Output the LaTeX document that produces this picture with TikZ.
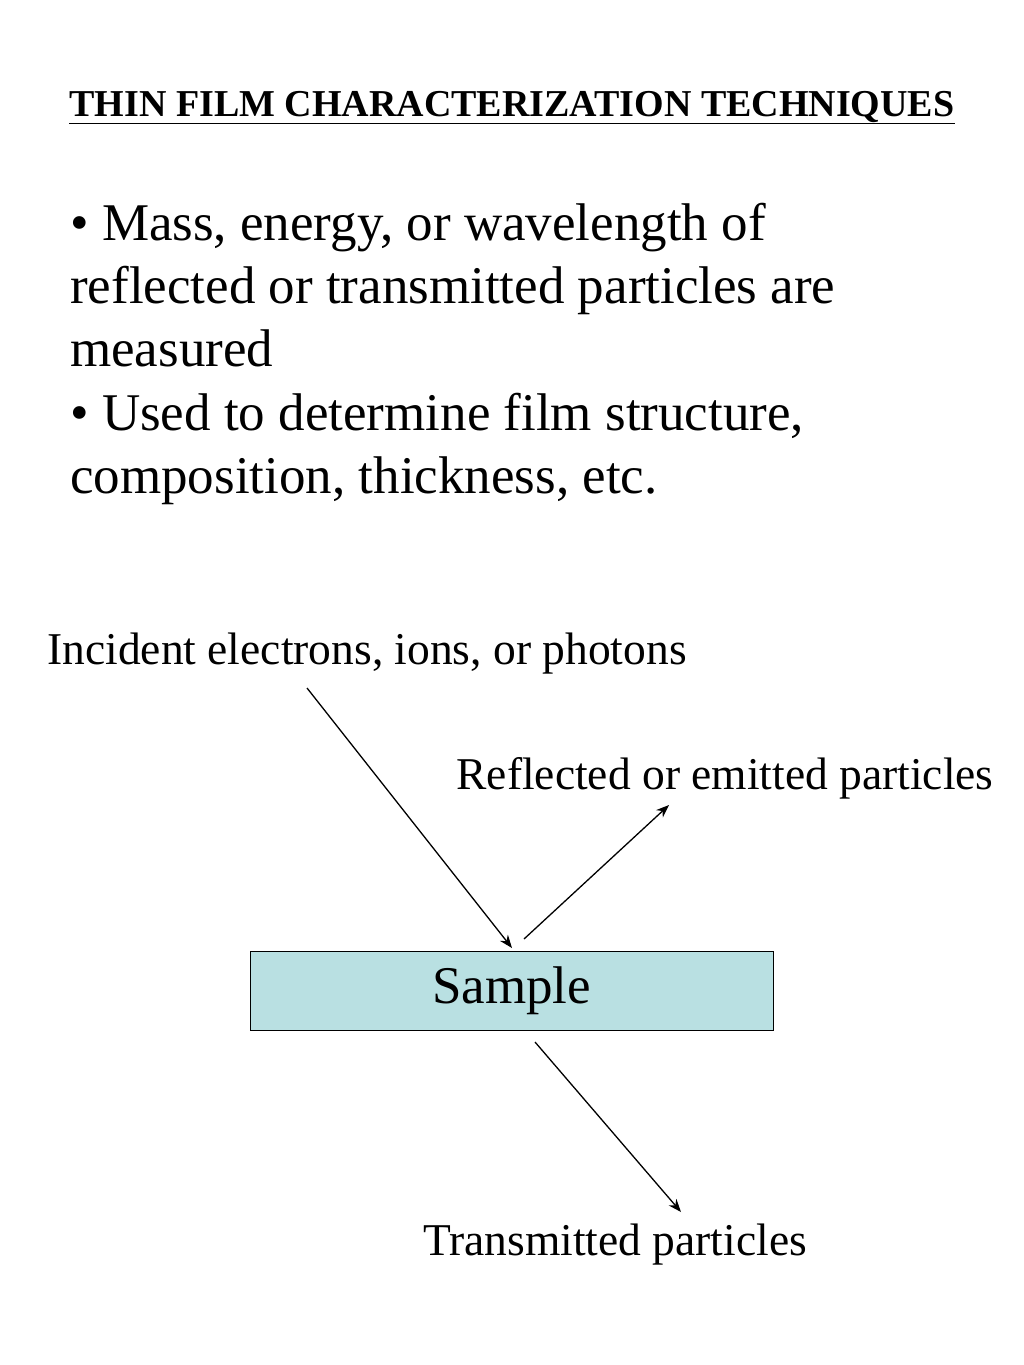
\documentclass[tikz,border=0pt]{standalone}
\usepackage{fontspec}
\setmainfont{Liberation Serif}
\usetikzlibrary{arrows.meta}
\begin{document}
\begin{tikzpicture}[x=1pt,y=-1pt,
  body/.style={anchor=base west,inner sep=0pt,font=\fontsize{53}{56}\selectfont},
  lab/.style={anchor=base,inner sep=0pt,font=\fontsize{45.5}{48}\selectfont},
  arr/.style={-{Stealth[length=13pt,width=10pt]},line width=1.3pt}]
\useasboundingbox (0,0) rectangle (1024,1365);
\node[anchor=base,inner sep=0pt,font=\fontsize{38}{40}\selectfont\bfseries] (title) at (512,116) {\underline{THIN FILM CHARACTERIZATION TECHNIQUES}};
\node[body] (l1) at (70,240) {• Mass, energy, or wavelength of};
\node[body] (l2) at (70,303) {reflected or transmitted particles are};
\node[body] (l3) at (70,366) {measured};
\node[body] (l4) at (70,430) {• Used to determine film structure,};
\node[body] (l5) at (70,493) {composition, thickness, etc.};
\node[lab] (inc) at (367,664) {Incident electrons, ions, or photons};
\node[lab] (refl) at (725,789) {Reflected or emitted particles};
\node[lab] (trans) at (615,1255) {Transmitted particles};
\node[draw,line width=0.8pt,fill={rgb,255:red,185;green,224;blue,226},minimum width=523pt,minimum height=79pt,inner sep=0pt,font=\fontsize{53}{56}\selectfont] (sample) at (511.5,990.5) {Sample};
\coordinate (a1) at (307,688);
\coordinate (a2) at (512,948);
\coordinate (b1) at (524,939);
\coordinate (b2) at (669,805);
\coordinate (c1) at (535,1042);
\coordinate (c2) at (681,1212);
\draw[arr] (a1) -- (a2);
\draw[arr] (b1) -- (b2);
\draw[arr] (c1) -- (c2);
\end{tikzpicture}
\end{document}
